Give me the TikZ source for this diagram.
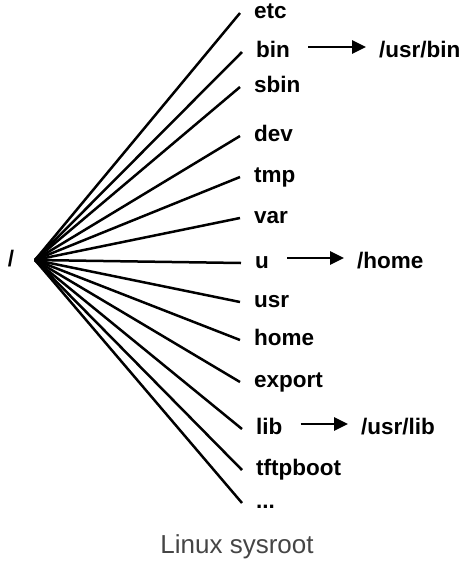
\documentclass[tikz,border=0pt]{standalone}
\usepackage{fontspec}
\setmainfont{Liberation Sans}
\usetikzlibrary{arrows.meta}
\definecolor{captiongray}{HTML}{454545}
\tikzset{
	dirname/.style={anchor=base west, inner sep=0pt, font=\fontsize{22.5}{27}\selectfont\bfseries},
	branch/.style={line width=2.5pt},
	linkarrow/.style={line width=2.8pt, -{Triangle[length=14pt,width=13pt]}, shorten <=18pt, shorten >=13pt}
}
\newcommand{\branchto}[1]{\draw[branch] (apex) -- ([xshift=-14pt,yshift=5pt]#1.base west);}
\newcommand{\linkto}[2]{\draw[linkarrow] ([yshift=10pt]#1.base east) -- ([yshift=10pt]#2.base west);}

\begin{document}
\begin{tikzpicture}[x=1pt, y=-1pt]
	\useasboundingbox (0,0) rectangle (474,587);

	% root of the tree
	\node[inner sep=0pt, font=\fontsize{22.5}{27}\selectfont\bfseries] (root) at (11,259) {/};
	\coordinate (apex) at (35,260);

	% directories
	\node[dirname] (etc) at (254,18) {etc};
	\node[dirname] (bin) at (256,57) {bin};
	\node[dirname] (sbin) at (254,92) {sbin};
	\node[dirname] (dev) at (254,141) {dev};
	\node[dirname] (tmp) at (254,182) {tmp};
	\node[dirname] (var) at (254,223) {var};
	\node[dirname] (u) at (255,268) {u};
	\node[dirname] (usr) at (254,307) {usr};
	\node[dirname] (home) at (254,345) {home};
	\node[dirname] (export) at (254,387) {export};
	\node[dirname] (lib) at (256,434) {lib};
	\node[dirname] (tftpboot) at (256,475) {tftpboot};
	\node[dirname] (more) at (256,508) {...};

	% link targets
	\node[dirname] (usrbin) at (379,57) {/usr/bin};
	\node[dirname] (homedir) at (357,268) {/home};
	\node[dirname] (usrlib) at (361,434) {/usr/lib};

	% fan of branches
	\branchto{etc}
	\branchto{bin}
	\branchto{sbin}
	\branchto{dev}
	\branchto{tmp}
	\branchto{var}
	\branchto{u}
	\branchto{usr}
	\branchto{home}
	\branchto{export}
	\branchto{lib}
	\branchto{tftpboot}
	\branchto{more}

	% links
	\linkto{bin}{usrbin}
	\linkto{u}{homedir}
	\linkto{lib}{usrlib}

	\node[anchor=base, inner sep=0pt, text=captiongray, font=\fontsize{26}{31}\selectfont] (caption) at (237,553) {Linux sysroot};

\end{tikzpicture}
\end{document}
